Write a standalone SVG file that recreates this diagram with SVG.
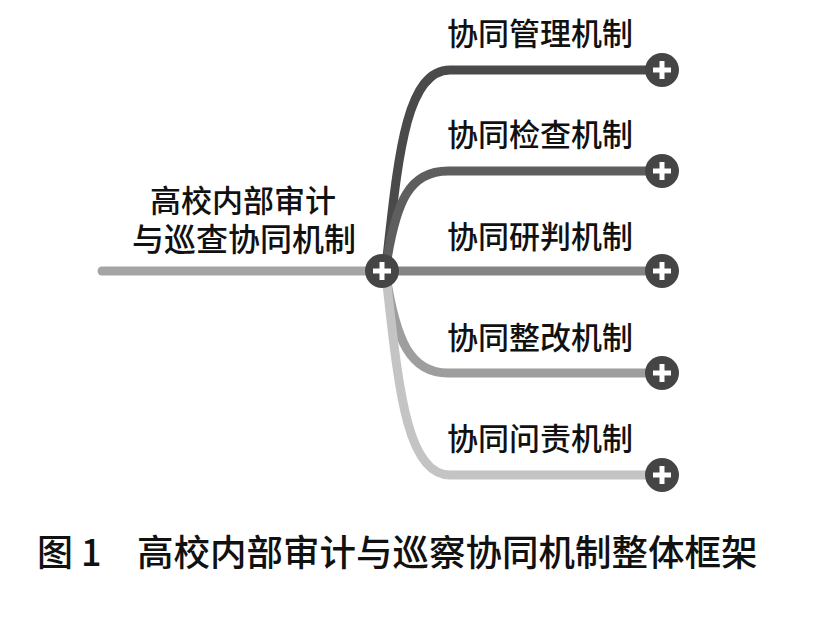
<svg xmlns="http://www.w3.org/2000/svg" width="817" height="628" viewBox="0 0 817 628">
<style>
.t{font-family:"Noto Sans CJK SC","Noto Sans",sans-serif;fill:#111;font-weight:500;}
.lb{font-size:31px;}
.ln{fill:none;stroke-width:9;stroke-linecap:round;}
.pc{fill:#454545;}
.pl{stroke:#fff;stroke-width:5;stroke-linecap:butt;}
</style>
<defs>
<g id="plus">
<circle r="17" class="pc"/>
<line x1="-9" y1="0" x2="9" y2="0" class="pl"/>
<line x1="0" y1="-9" x2="0" y2="9" class="pl"/>
</g>
</defs>
<rect width="817" height="628" fill="#fff"/>
<g id="connectors">
<path class="ln" d="M102,271 L372,271" stroke="#a5a5a5"/>
<path class="ln" d="M386,266 C398,160 405,70 450,70 L662,70" stroke="#4a4a4a"/>
<path class="ln" d="M386,266 C396,200 410,171 448,171 L662,171" stroke="#5e5e5e"/>
<path class="ln" d="M386,271 L662,271" stroke="#858585"/>
<path class="ln" d="M386,276 C396,340 410,373 448,373 L662,373" stroke="#9e9e9e"/>
<path class="ln" d="M386,276 C398,380 405,475 450,475 L662,475" stroke="#c4c4c4"/>
</g>
<g id="root">
<text class="t" x="243" y="212" font-size="31" text-anchor="middle">高校内部审计</text>
<text class="t" x="244" y="251" font-size="32" text-anchor="middle">与巡查协同机制</text>
<use href="#plus" x="382" y="271"/>
</g>
<g id="n1"><text class="t lb" x="447" y="45">协同管理机制</text><use href="#plus" x="662" y="70"/></g>
<g id="n2"><text class="t lb" x="447" y="146">协同检查机制</text><use href="#plus" x="662" y="171"/></g>
<g id="n3"><text class="t lb" x="447" y="248">协同研判机制</text><use href="#plus" x="662" y="271"/></g>
<g id="n4"><text class="t lb" x="447" y="349">协同整改机制</text><use href="#plus" x="662" y="373"/></g>
<g id="n5"><text class="t lb" x="447" y="450">协同问责机制</text><use href="#plus" x="662" y="475"/></g>
<g id="caption">
<text class="t" x="37" y="566" font-size="36">图 1</text>
<text class="t" x="137" y="566" font-size="36.5">高校内部审计与巡察协同机制整体框架</text>
</g>
</svg>
